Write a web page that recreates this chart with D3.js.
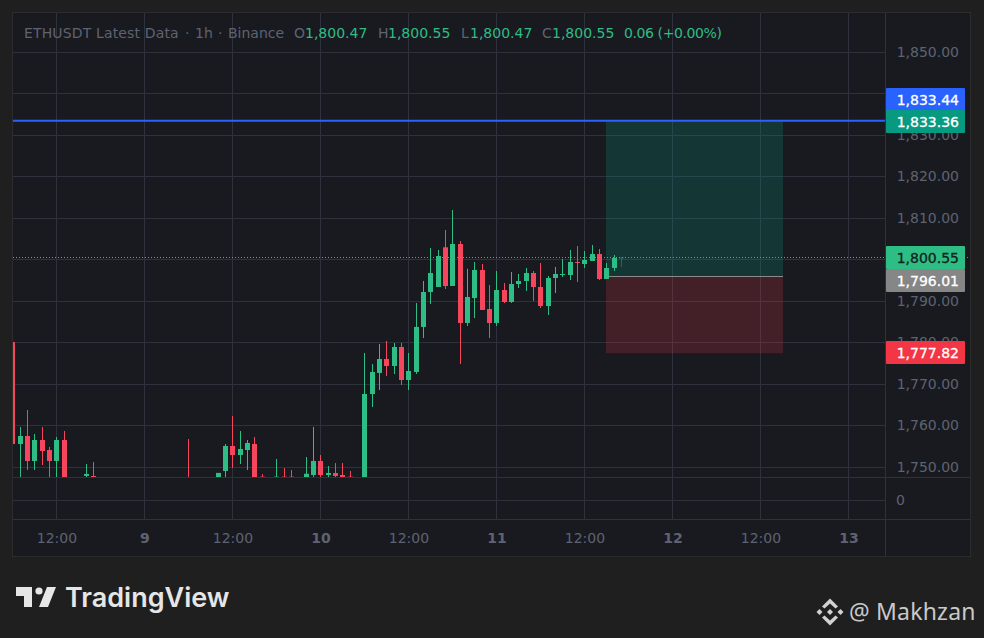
<!DOCTYPE html>
<html>
<head>
<meta charset="utf-8">
<script src="https://cdnjs.cloudflare.com/ajax/libs/d3/7.8.5/d3.min.js"></script>
<style>
  html, body { margin: 0; padding: 0; background: #1f1f1f; overflow: hidden; }
  svg { display: block; }
  text { font-family: "DejaVu Sans", sans-serif; }
</style>
</head>
<body>
<svg width="984" height="638"></svg>
<script>
// hour slot of every candle that shows in the pane (slot 6 = 12:00 on the 8th)
const slots  = [0,1,2,3,4,5,6,7,10,11,24,28,29,30,31,32,33,34,36,37,38,40,41,42,43,44,45,46,48,49,50,51,52,53,54,55,56,57,58,59,60,61,62,63,64,65,66,67,68,69,70,71,72,73,74,75,76,77,78,79,80,81,82,83];
const opens  = [1780.2,1755.66,1757.58,1751.57,1756.62,1754.21,1751.57,1756.62,1747.96,1747.96,1747.6,1747.0,1749.16,1755.18,1753.01,1754.21,1755.66,1747.8,1747.0,1747.8,1747.8,1747.5,1748.2,1751.57,1748.2,1748.68,1748.2,1747.8,1746,1767.69,1772.75,1776.11,1774.43,1779.0,1771.06,1772.99,1783.82,1792.24,1793.44,1803.0,1793.68,1803.79,1784.78,1790.8,1797.53,1788.15,1784.78,1792.72,1789.83,1794.16,1794.89,1796.81,1793.44,1788.87,1795.61,1796.33,1796.33,1799.46,1798.98,1799.7,1801.38,1795.37,1798.02,1800.47];
const highs  = [1780.2,1759.75,1763.84,1758.06,1759.75,1754.94,1757.34,1758.79,1750.84,1751.33,1756.86,1747.9,1755.66,1762.4,1758.79,1756.62,1757.34,1748.4,1752.05,1749.88,1749.4,1752.53,1759.75,1753.01,1750.36,1751.08,1751.08,1749.16,1777.56,1774.91,1779.72,1780.45,1779.97,1779.97,1777.56,1789.59,1794.89,1802.85,1802.35,1807.16,1811.97,1804.51,1797.84,1799.46,1798.98,1793.92,1797.29,1794.4,1797.05,1796.57,1798.02,1797.29,1799.22,1796.09,1798.26,1800.18,1802.35,1803.31,1802.11,1803.55,1802.59,1799.22,1801.14,1800.55];
const lows   = [1755.66,1747,1749.4,1749.4,1750.6,1747,1747,1747,1747,1747,1747,1746,1747,1749.88,1750.84,1749.4,1747,1747,1747,1747,1747,1747,1747,1747,1747,1747,1747,1747,1746,1764.56,1768.65,1772.02,1772.5,1769.86,1768.65,1772.5,1781.17,1789.35,1794.16,1792.96,1793.68,1774.91,1784.06,1785.98,1787.91,1781.17,1784.06,1789.59,1789.59,1793.2,1792.48,1790.07,1788.39,1786.7,1792,1795.85,1795.13,1794.65,1798.02,1799.7,1795.13,1795.37,1797.29,1798.26];
const closes = [1755.66,1757.58,1751.57,1756.62,1753.97,1751.57,1756.62,1746,1748.44,1746.8,1747.2,1748.7,1755.18,1753.01,1754.45,1755.9,1746.5,1747.2,1747.8,1747.3,1747.3,1748.5,1751.57,1748.2,1748.68,1747.96,1747.2,1747.2,1767.69,1772.99,1776.11,1774.43,1779.0,1771.06,1773.23,1783.82,1792.24,1796.81,1800.9,1793.68,1803.79,1784.78,1791.04,1797.53,1787.91,1784.78,1792.72,1789.83,1794.16,1794.89,1796.81,1793.44,1788.87,1795.61,1796.57,1796.57,1799.46,1799.22,1799.94,1801.38,1795.37,1798.02,1800.42,1800.55];

const gridPrices = [1750,1760,1770,1780,1790,1800,1810,1820,1830,1840,1850];
// 1,800 and 1,840 sit fully behind the price tags, so they get no label
const priceLabels = [1750,1760,1770,1780,1790,1810,1820,1830,1850];
const volumeTicks = [0];
const timeSlots = [6,18,30,42,54,66,78,90,102,114];
const timeLabels = ['12:00','9','12:00','10','12:00','11','12:00','12','12:00','13'];

const blueLevel = 1833.44;
const targetLevel = 1833.36;
const lastPrice = 1800.55;
const entryLevel = 1796.01;
const stopLevel = 1777.82;
const boxBottom = 1777.5;
const positionSlots = [81,105];

const legendTexts = ['ETHUSDT Latest Data','·','1h','·','Binance','O','1,800.47','H','1,800.55','L','1,800.47','C','1,800.55','0.06 (+0.00%)'];
const legendX = [24,185,195,218,228,294,305,378,388,461,470,542,552,624];
const legendIsValue = [0,0,0,0,0,0,1,0,1,0,1,0,1,1];

const green = '#2ebd85', red = '#f6465d', gridColor = '#2d323d', tickColor = '#5e6370';

const paneLeft = 13, paneRight = 885, axisRight = 970, paneTop = 13, paneBottom = 477, volBottom = 519, axisBottom = 556;

const svg = d3.select('svg');

const xScale = d3.scaleLinear().domain([0,12]).range([12.9,100.9]);
const yScale = d3.scaleLinear().domain([1850,1750]).range([52,467.5]);
const volScale = d3.scaleLinear().domain([0,1]).range([500,480]);
const px = (v) => Math.floor(v) + 0.5;

svg.append('rect').attr('x', paneLeft).attr('y', paneTop)
  .attr('width', axisRight - paneLeft).attr('height', axisBottom - paneTop)
  .attr('fill', '#181a20');

// grid
const grid = svg.append('g').attr('stroke', gridColor).attr('stroke-width', 1);
grid.selectAll('.h').data(gridPrices).enter().append('line')
  .attr('x1', paneLeft).attr('x2', paneRight)
  .attr('y1', (d) => px(yScale(d))).attr('y2', (d) => px(yScale(d)));
grid.selectAll('.v').data(volumeTicks).enter().append('line')
  .attr('x1', paneLeft).attr('x2', paneRight)
  .attr('y1', (d) => px(volScale(d))).attr('y2', (d) => px(volScale(d)));
grid.selectAll('.t').data(timeSlots).enter().append('line')
  .attr('x1', (d) => px(xScale(d))).attr('x2', (d) => px(xScale(d)))
  .attr('y1', paneTop).attr('y2', volBottom);

// position tool, see-through so the grid stays visible
const boxX = Math.floor(xScale(positionSlots[0]));
const boxW = Math.ceil(xScale(positionSlots[1])) - boxX;
svg.append('rect')
  .attr('x', boxX).attr('width', boxW)
  .attr('y', yScale(targetLevel)).attr('height', yScale(entryLevel) - yScale(targetLevel))
  .attr('fill', '#089981').attr('fill-opacity', 0.23);
svg.append('rect')
  .attr('x', boxX).attr('width', boxW)
  .attr('y', yScale(entryLevel)).attr('height', yScale(boxBottom) - yScale(entryLevel))
  .attr('fill', '#f23645').attr('fill-opacity', 0.2);
svg.append('line')
  .attr('x1', boxX).attr('x2', boxX + boxW)
  .attr('y1', px(yScale(entryLevel))).attr('y2', px(yScale(entryLevel)))
  .attr('stroke', '#8a8a8a');

// candles
svg.append('clipPath').attr('id', 'pane').append('rect')
  .attr('x', paneLeft).attr('y', paneTop).attr('width', paneRight - paneLeft).attr('height', paneBottom - paneTop);
const candles = svg.append('g').attr('clip-path', 'url(#pane)');
const bars = candles.selectAll('g').data(slots).enter().append('g')
  .attr('fill', (d, i) => closes[i] >= opens[i] ? green : red)
  .attr('opacity', (d, i) => i === slots.length - 1 ? 0.4 : 1); // the live bar is faded in the source
bars.append('rect')
  .attr('x', (d) => Math.floor(xScale(d))).attr('width', 1)
  .attr('y', (d, i) => yScale(highs[i]))
  .attr('height', (d, i) => yScale(lows[i]) - yScale(highs[i]));
bars.append('rect')
  .attr('x', (d) => Math.floor(xScale(d)) - 2).attr('width', 5)
  .attr('y', (d, i) => yScale(Math.max(opens[i], closes[i])))
  .attr('height', (d, i) => Math.max(1, Math.abs(yScale(opens[i]) - yScale(closes[i]))));

// level lines
svg.append('line').attr('x1', paneLeft).attr('x2', paneRight)
  .attr('y1', yScale(blueLevel)).attr('y2', yScale(blueLevel))
  .attr('stroke', '#2962ff').attr('stroke-width', 2);
svg.append('line').attr('x1', paneLeft).attr('x2', axisRight)
  .attr('y1', px(yScale(lastPrice))).attr('y2', px(yScale(lastPrice)))
  .attr('stroke', green).attr('stroke-dasharray', '1 2');

// pane borders
const lines = svg.append('g').attr('stroke', gridColor);
lines.append('line').attr('x1', paneLeft).attr('x2', axisRight).attr('y1', paneBottom + 0.5).attr('y2', paneBottom + 0.5);
lines.append('line').attr('x1', paneLeft).attr('x2', axisRight).attr('y1', volBottom + 0.5).attr('y2', volBottom + 0.5);
lines.append('line').attr('x1', paneRight + 0.5).attr('x2', paneRight + 0.5).attr('y1', paneTop).attr('y2', axisBottom);
svg.append('rect').attr('x', paneLeft - 0.5).attr('y', paneTop - 0.5)
  .attr('width', axisRight - paneLeft + 1).attr('height', axisBottom - paneTop + 1)
  .attr('fill', 'none').attr('stroke', '#2c2c2c');

// axes
const fmt = d3.format(',.2f');
svg.append('g').selectAll('text').data(priceLabels).enter().append('text')
  .attr('x', 959).attr('y', (d) => yScale(d) + 4.5)
  .attr('text-anchor', 'end').attr('font-size', 14).attr('fill', tickColor)
  .text(fmt);
svg.append('g').selectAll('text').data(volumeTicks).enter().append('text')
  .attr('x', 896).attr('y', (d) => volScale(d) + 5)
  .attr('font-size', 14).attr('fill', tickColor)
  .text((d) => d);
svg.append('g').selectAll('text').data(timeSlots).enter().append('text')
  .attr('x', (d) => xScale(d)).attr('y', 543)
  .attr('text-anchor', 'middle').attr('font-size', 14).attr('fill', tickColor)
  .attr('font-weight', (d, i) => timeLabels[i].length < 3 ? 700 : 400)
  .text((d, i) => timeLabels[i]);

// price tags
const tags = [
  { v: blueLevel, bg: '#2962ff', fg: '#ffffff', dy: -22 },
  { v: targetLevel, bg: '#089981', fg: '#ffffff', dy: 0 },
  { v: lastPrice, bg: green, fg: '#10231c', dy: 0 },
  { v: entryLevel, bg: '#868686', fg: '#ffffff', dy: 4 },
  { v: stopLevel, bg: '#f23645', fg: '#ffffff', dy: 0.5 }
];
const tagG = svg.append('g').selectAll('g').data(tags).enter().append('g')
  .attr('transform', (d) => `translate(886, ${Math.round(yScale(d.v) + d.dy) - 11})`);
tagG.append('rect').attr('width', 79).attr('height', 23).attr('rx', 1).attr('fill', (d) => d.bg);
tagG.append('text').attr('x', 73).attr('y', 17)
  .attr('text-anchor', 'end').attr('font-size', 14)
  .attr('stroke', (d) => d.fg).attr('stroke-width', 0.3)
  .attr('fill', (d) => d.fg).text((d) => fmt(d.v));

// legend line
svg.append('g').selectAll('text').data(legendTexts).enter().append('text')
  .attr('x', (d, i) => legendX[i]).attr('y', 38).attr('font-size', 14)
  .attr('fill', (d, i) => legendIsValue[i] ? green : tickColor)
  .attr('letter-spacing', (d) => d.length > 12 ? (d[0] === 'E' ? 0.15 : -0.4) : 0)
  .text((d) => d);

// tradingview mark
const logo = svg.append('g').attr('fill', '#e6e6e6');
logo.append('path').attr('d', 'M16 587H32V607H24V596H16Z');
logo.append('circle').attr('cx', 39).attr('cy', 591).attr('r', 3.6);
logo.append('path').attr('d', 'M47 587H56L48 607H39Z');
svg.append('text').attr('x', 65).attr('y', 607).attr('font-size', 27)
  .attr('style', 'font-family: Inter').attr('font-weight', 600).attr('fill', '#e6e6e6').text('TradingView');

// binance mark
const bin = svg.append('g').attr('transform', 'translate(830,612)').attr('fill', '#d2d2d2');
bin.append('path').attr('d', 'M0 -3L3 0L0 3L-3 0Z');
bin.append('path').attr('d', 'M-13.5 0L-10.5 -3L-7.5 0L-10.5 3Z');
bin.append('path').attr('d', 'M13.5 0L10.5 -3L7.5 0L10.5 3Z');
bin.append('path').attr('d', 'M0 -13.5L8 -5.5L5.5 -3.5L0 -8.5L-5.5 -3.5L-8 -5.5Z');
bin.append('path').attr('d', 'M0 13.5L8 5.5L5.5 3.5L0 8.5L-5.5 3.5L-8 5.5Z');
svg.append('text').attr('x', 849).attr('y', 620).attr('font-size', 23).attr('letter-spacing', 0.2)
  .attr('style', 'font-family: "Noto Sans"').attr('fill', '#c9c9c9').text('@ Makhzan');
</script>
</body>
</html>
